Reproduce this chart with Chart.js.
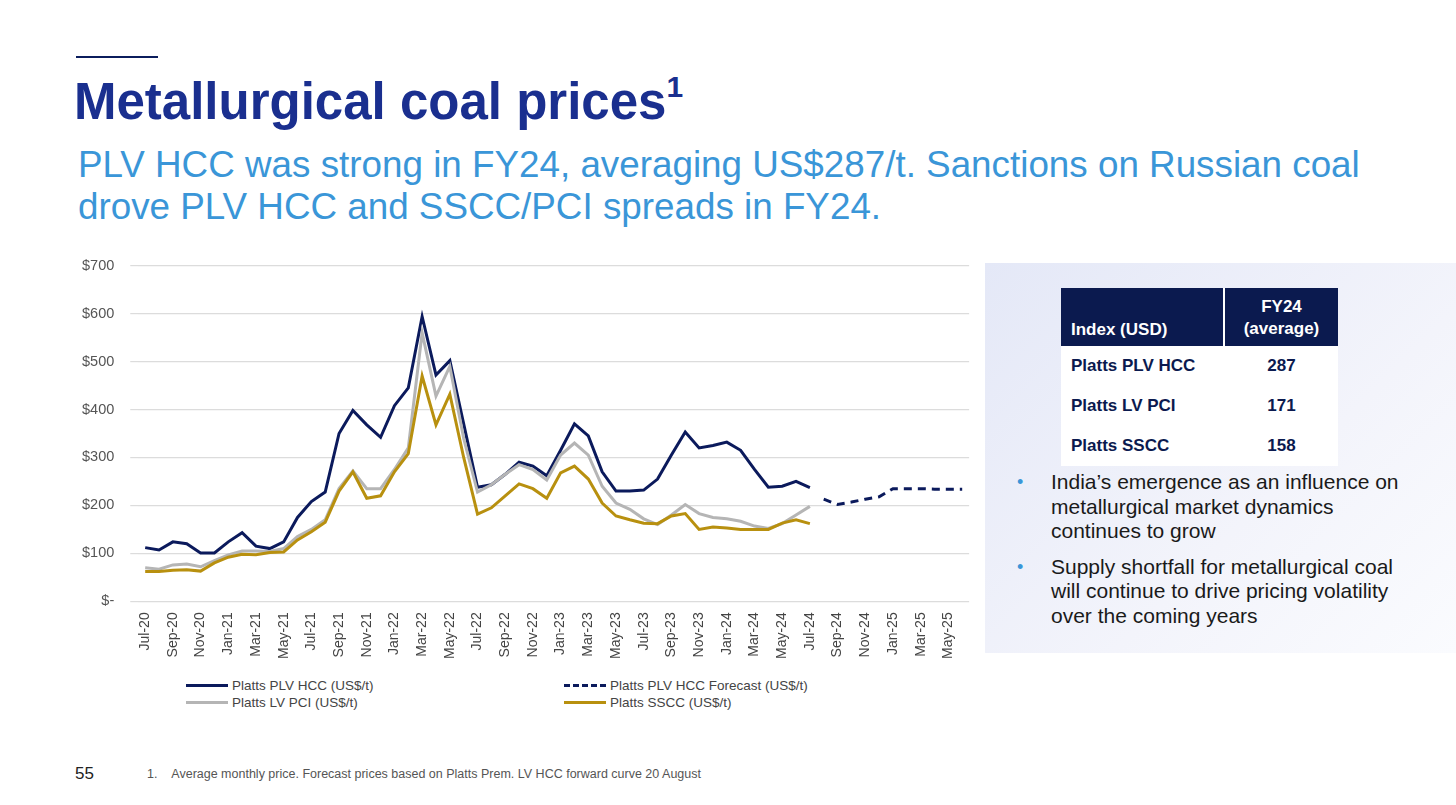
<!DOCTYPE html>
<html><head><meta charset="utf-8">
<script src="https://cdn.jsdelivr.net/npm/chart.js@4/dist/chart.umd.min.js"></script>
<style>
body{margin:0;width:1456px;height:805px;background:#fff;font-family:"Liberation Sans",Arial,sans-serif;position:relative;overflow:hidden}
.abs{position:absolute}
#rule{left:76px;top:56px;width:82px;height:2px;background:#0b1d5c}
#title{left:74px;top:72px;font-size:51px;font-weight:bold;color:#1a2f8f;letter-spacing:0px;white-space:nowrap}
#title sup{font-size:30px;vertical-align:top;position:relative;top:-2px}
#sub{left:78px;top:144px;font-size:36.8px;color:#3a96d8;line-height:42px;white-space:nowrap}
#panel{left:985px;top:263px;width:471px;height:390px;background:linear-gradient(135deg,#e4e8f7 0%,#f3f4fb 60%,#fafbfe 100%)}
table{position:absolute;left:1061px;top:288px;border-collapse:collapse;background:#fff;font-size:17px;color:#0b1a4f;font-weight:bold}
th{background:#0b1a4f;color:#fff;font-weight:bold;height:52px;vertical-align:bottom;padding:0 0 6px 0}
td{height:38px}
ul{position:absolute;left:1015px;top:470px;margin:0;padding:0;list-style:none;font-size:21px;color:#1a1a1a;line-height:24.5px;width:390px}
li{position:relative;padding-left:36px;margin-bottom:11px}
li:before{content:"•";position:absolute;left:2px;color:#3a96d8;font-size:18px}
#legend{left:186px;top:678px;font-size:13.5px;color:#444}
.lg{position:absolute;white-space:nowrap;display:flex;align-items:center}
.sw{width:42px;height:0;border-top:3px solid;margin-right:4px}
#pg{left:75px;top:764px;font-size:17px;color:#222}
#fn{left:147px;top:767px;font-size:12.5px;color:#555}
</style></head><body>
<div class="abs" id="rule"></div>
<div class="abs" id="title">Metallurgical coal prices<sup>1</sup></div>
<div class="abs" id="sub">PLV HCC was strong in FY24, averaging US$287/t. Sanctions on Russian coal<br>drove PLV HCC and SSCC/PCI spreads in FY24.</div>
<div class="abs" id="panel"></div>
<table>
<tr><th style="width:152px;text-align:left;padding-left:10px">Index (USD)</th><th style="width:2px;background:#fff"></th><th style="width:113px;text-align:center;line-height:22px">FY24<br>(average)</th></tr>
<tr><td style="padding-left:10px">Platts PLV HCC</td><td></td><td style="text-align:center">287</td></tr>
<tr><td style="padding-left:10px">Platts LV PCI</td><td></td><td style="text-align:center">171</td></tr>
<tr><td style="padding-left:10px">Platts SSCC</td><td></td><td style="text-align:center">158</td></tr>
</table>
<ul>
<li>India’s emergence as an influence on metallurgical market dynamics continues to grow</li>
<li>Supply shortfall for metallurgical coal will continue to drive pricing volatility over the coming years</li>
</ul>
<div class="abs" style="left:66px;top:241px;width:916px;height:421px"><canvas id="c"></canvas></div>
<div class="abs" id="legend">
<div class="lg" style="left:0;top:0"><span class="sw" style="border-color:#0b1a5c"></span>Platts PLV HCC (US$/t)</div>
<div class="lg" style="left:378px;top:0"><span class="sw" style="border-top:3px dashed #0b1a5c"></span>Platts PLV HCC Forecast (US$/t)</div>
<div class="lg" style="left:0;top:17px"><span class="sw" style="border-color:#b5b5b5"></span>Platts LV PCI (US$/t)</div>
<div class="lg" style="left:378px;top:17px"><span class="sw" style="border-color:#b8900f"></span>Platts SSCC (US$/t)</div>
</div>
<div class="abs" id="pg">55</div>
<div class="abs" id="fn">1.&nbsp;&nbsp;&nbsp;&nbsp;Average monthly price. Forecast prices based on Platts Prem. LV HCC forward curve 20 August</div>
<script>
const monthNames=["Jan","Feb","Mar","Apr","May","Jun","Jul","Aug","Sep","Oct","Nov","Dec"];
const months=[];
for(let i=0;i<60;i++){const m=(6+i)%12,y=20+Math.floor((6+i)/12);months.push(monthNames[m]+"-"+y);}
const plvHcc=[112,107,124,120,101,101,124,143,115,110,124,175,208,228,350,398,368,342,408,445,594,472,502,370,238,243,265,290,282,262,315,370,345,270,230,230,232,255,305,353,320,325,332,315,275,238,240,250,237];
const lvPci=[70,67,76,78,72,85,97,105,105,104,110,135,150,170,235,272,235,235,275,320,560,428,490,340,228,243,265,285,275,253,305,330,305,240,205,192,172,160,180,202,183,175,172,167,157,152,162,180,198];
const sscc=[62,62,65,66,63,80,92,98,97,102,103,128,145,165,230,270,215,220,270,308,470,368,432,300,182,195,220,245,235,215,268,282,255,205,178,170,163,162,178,183,150,155,153,150,150,150,163,170,162];
const forecast=Array(49).fill(null).concat([213,202,207,213,218,235,235,235,234,234,234]);
new Chart(document.getElementById('c'),{type:'line',
data:{labels:months,datasets:[
{data:sscc,borderColor:'#b8900f',borderWidth:3,pointRadius:0,tension:0},
{data:lvPci,borderColor:'#b5b5b5',borderWidth:3,pointRadius:0,tension:0},
{data:plvHcc,borderColor:'#0b1a5c',borderWidth:3,pointRadius:0,tension:0},
{data:forecast,borderColor:'#0b1a5c',borderWidth:3,borderDash:[8,6],pointRadius:0,tension:0}]},
options:{responsive:true,maintainAspectRatio:false,animation:false,
layout:{padding:{top:2,right:0}},
plugins:{legend:{display:false},tooltip:{enabled:false}},
scales:{
x:{offset:true,grid:{display:false},border:{display:false},
ticks:{autoSkip:false,maxRotation:90,minRotation:90,color:'#444',font:{family:'Liberation Sans',size:14},
callback:function(v,i){return i%2===0?this.getLabelForValue(v):'';}}},
y:{min:0,max:700,grid:{color:'#dcdcdc',lineWidth:1.2},border:{display:false},
ticks:{stepSize:100,color:'#555',padding:16,font:{family:'Liberation Sans',size:14.5},callback:v=>v===0?'$-':'$'+v}}}}});
</script>
</body></html>
